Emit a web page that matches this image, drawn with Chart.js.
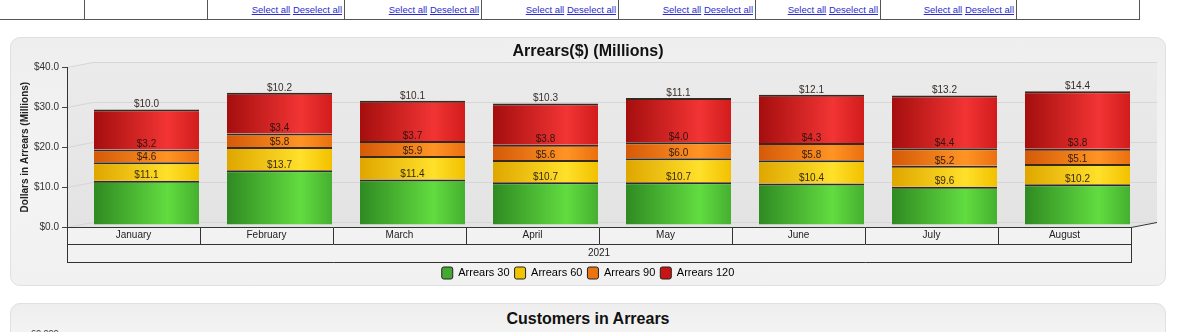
<!DOCTYPE html>
<html>
<head>
<meta charset="utf-8">
<title>Arrears</title>
<script src="https://cdn.jsdelivr.net/npm/chart.js@4/dist/chart.umd.min.js"></script>
<style>
  html, body { margin: 0; padding: 0; background: #fff; }
  body { width: 1200px; height: 332px; overflow: hidden; position: relative;
         font-family: "Liberation Sans", Arial, sans-serif; }
  .strip { position: absolute; left: 0; top: 0; width: 1140px; height: 19px;
           border-bottom: 1px solid #555; display: flex; }
  .strip div { height: 19px; box-sizing: border-box; border-right: 1px solid #555;
               text-align: right; font-size: 9.5px; line-height: 19px; padding-right: 2px; white-space: nowrap; }
  .strip a { color: #2a2ad0; text-decoration: underline; }
  .panel { position: absolute; left: 10px; width: 1156px; box-sizing: border-box;
           border: 1px solid #e0e0e0; border-radius: 10px;
           background: linear-gradient(180deg, #eeeeee 0%, #f4f4f4 55%, #f1f1f1 100%); }
  #p1 { top: 37px; height: 249px; }
  #p1 canvas { position: absolute; left: -1px; top: -1px; }
  #p2 { top: 303px; height: 60px; }
  #p2 h2 { margin: 0; font-size: 16px; font-weight: bold; text-align: center; line-height: 30px; color: #111; }
  #p2 span { position: absolute; left: 20px; top: 24px; font-size: 9px; color: #444; }
</style>
</head>
<body>

<div class="strip">
  <div style="width:85px"></div>
  <div style="width:123px"></div>
  <div style="width:137px"><a>Select all</a> <a>Deselect all</a></div>
  <div style="width:137px"><a>Select all</a> <a>Deselect all</a></div>
  <div style="width:137px"><a>Select all</a> <a>Deselect all</a></div>
  <div style="width:137px"><a>Select all</a> <a>Deselect all</a></div>
  <div style="width:125px"><a>Select all</a> <a>Deselect all</a></div>
  <div style="width:136px"><a>Select all</a> <a>Deselect all</a></div>
  <div style="width:123px"></div>
</div>

<div class="panel" id="p1">
  <canvas id="arrears" width="1156" height="252"></canvas>
</div>

<div class="panel" id="p2">
  <h2>Customers in Arrears</h2>
  <span>60,000</span>
</div>

<script>
var MONTHS = ["January", "February", "March", "April", "May", "June", "July", "August"];
var YEAR = ["2021"];
var SERIES = ["Arrears 30", "Arrears 60", "Arrears 90", "Arrears 120"];

// $ millions
var ARREARS_30  = [11.1, 13.7, 11.4, 10.7, 10.7, 10.4, 9.6, 10.2];
var ARREARS_60  = [4.6, 5.8, 5.9, 5.6, 6.0, 5.8, 5.2, 5.1];
var ARREARS_90  = [3.2, 3.4, 3.7, 3.8, 4.0, 4.3, 4.4, 3.8];
var ARREARS_120 = [10.0, 10.2, 10.1, 10.3, 11.1, 12.1, 13.2, 14.4];

var Y_MIN = 0, Y_MAX = 40, Y_STEP = 10;

(function () {
  "use strict";

  var FONT = "'Liberation Sans', Arial, sans-serif";
  var BAR_PCT = 0.79;
  var SHIFT = { x: 13, y: 2 };   // bars sit half way into the 3-D box
  var WALL = { x: 26, y: 5 };    // depth of the back wall

  // legend fill, left edge, highlight, right edge
  var SHADES = [
    ["#44a832", "#2f8a22", "#62dc40", "#45b030"],
    ["#f0c400", "#dfa600", "#ffe02a", "#f2c000"],
    ["#ec7410", "#d55a08", "#ff9424", "#ea7010"],
    ["#c81414", "#a50e0e", "#f23434", "#d21c1c"]
  ];

  Chart.defaults.font.family = FONT;
  Chart.defaults.color = "#222";

  /* horizontal gradient per bar so the stacks read as cylinders */
  function cylinder(shade) {
    return function (c) {
      var xs = c.chart.scales.x;
      if (c.type !== "data" || !xs || !isFinite(xs.width) || xs.width <= 0) return shade[0];
      var mid = xs.getPixelForValue(c.dataIndex);
      var half = xs.width / MONTHS.length * BAR_PCT / 2;
      var g = c.chart.ctx.createLinearGradient(mid - half, 0, mid + half, 0);
      g.addColorStop(0, shade[1]);
      g.addColorStop(0.7, shade[2]);
      g.addColorStop(1, shade[3]);
      return g;
    };
  }

  function ds(label, data, i) {
    return {
      label: label, data: data,
      backgroundColor: cylinder(SHADES[i]),
      borderColor: "rgba(35,20,10,0.9)",
      borderWidth: { top: 2, right: 0, bottom: 0, left: 0 },
      borderSkipped: "start",
      barPercentage: BAR_PCT, categoryPercentage: 1,
      clip: false
    };
  }

  var depth = {
    id: "depth",
    beforeDraw: function (chart) {
      var ctx = chart.ctx, a = chart.chartArea, ys = chart.scales.y;
      ctx.save();
      var g = ctx.createLinearGradient(0, a.top, 0, a.bottom);
      g.addColorStop(0, "#ebebeb");
      g.addColorStop(1, "#e3e3e3");
      ctx.fillStyle = g;
      ctx.beginPath();
      ctx.moveTo(a.left, a.bottom);
      ctx.lineTo(a.left, a.top);
      ctx.lineTo(a.left + WALL.x, a.top - WALL.y);
      ctx.lineTo(a.right + WALL.x, a.top - WALL.y);
      ctx.lineTo(a.right + WALL.x, a.bottom - WALL.y);
      ctx.lineTo(a.right, a.bottom);
      ctx.closePath();
      ctx.fill();
      ctx.strokeStyle = "#d6d6d6";
      ctx.lineWidth = 1;
      ys.ticks.forEach(function (t) {
        var py = Math.round(ys.getPixelForValue(t.value)) + 0.5;
        ctx.beginPath();
        ctx.moveTo(a.left, py);
        ctx.lineTo(a.left + WALL.x, py - WALL.y);
        ctx.lineTo(a.right + WALL.x, py - WALL.y);
        ctx.stroke();
      });
      ctx.strokeStyle = "#333";
      ctx.beginPath();
      ctx.moveTo(a.right, a.bottom + 0.5);
      ctx.lineTo(a.right + WALL.x, a.bottom - WALL.y + 0.5);
      ctx.stroke();
      ctx.restore();
    },
    beforeDatasetsDraw: function (chart) {
      chart.ctx.save();
      chart.ctx.translate(SHIFT.x, -SHIFT.y);
    },
    afterDatasetsDraw: function (chart) {
      var ctx = chart.ctx;
      ctx.font = "10px " + FONT;
      ctx.fillStyle = "rgba(30,18,12,0.9)";
      ctx.textAlign = "center";
      ctx.textBaseline = "middle";
      chart.data.datasets.forEach(function (d, i) {
        chart.getDatasetMeta(i).data.forEach(function (el, j) {
          ctx.fillText("$" + d.data[j].toFixed(1), el.x, el.y - 5);
        });
      });
      ctx.restore();
    }
  };

  new Chart(document.getElementById("arrears"), {
    type: "bar",
    data: {
      labels: MONTHS,
      datasets: [
        ds(SERIES[0], ARREARS_30, 0),
        ds(SERIES[1], ARREARS_60, 1),
        ds(SERIES[2], ARREARS_90, 2),
        ds(SERIES[3], ARREARS_120, 3)
      ]
    },
    plugins: [depth],
    options: {
      responsive: false, animation: false, events: [],
      layout: { padding: { left: 5, right: 5, top: 0, bottom: 0 } },
      plugins: {
        tooltip: { enabled: false },
        title: {
          display: true, text: "Arrears($) (Millions)", color: "#111",
          font: { size: 16, weight: "bold" }, padding: { top: 5, bottom: 6 }
        },
        legend: {
          position: "bottom",
          labels: {
            font: { size: 11 }, color: "#222", boxWidth: 11, boxHeight: 12, padding: 5,
            useBorderRadius: true, borderRadius: 2,
            generateLabels: function (chart) {
              return chart.data.datasets.map(function (d, i) {
                return { text: d.label, fillStyle: SHADES[i][0], strokeStyle: "#222",
                         lineWidth: 1, borderRadius: 2, datasetIndex: i, hidden: false };
              });
            }
          }
        }
      },
      scales: {
        x: {
          stacked: true, offset: true, weight: 0,
          grid: { display: true, offset: true, drawOnChartArea: false, tickLength: 17, color: "#333" },
          border: { display: true, color: "#333" },
          ticks: { font: { size: 10 }, color: "#222", padding: -15, autoSkip: false, maxRotation: 0 },
          afterFit: function (s) { s.height = 17; }
        },
        xYear: {
          type: "category", axis: "x", position: "bottom", labels: YEAR, offset: true, weight: 1,
          grid: { display: true, offset: true, drawOnChartArea: false, tickLength: 18, color: "#333" },
          border: { display: true, color: "#333" },
          ticks: { font: { size: 10 }, color: "#222", padding: -15 },
          afterFit: function (s) { s.height = 18; }
        },
        xClose: {
          type: "category", axis: "x", position: "bottom", labels: [""], weight: 2,
          grid: { display: false }, ticks: { display: false },
          border: { display: true, color: "#333" },
          afterFit: function (s) { s.height = 0; }
        },
        y: {
          stacked: true, min: Y_MIN, max: Y_MAX,
          grid: { display: true, drawOnChartArea: false, tickLength: 5, color: "#444" },
          border: { display: true, color: "#333" },
          ticks: { stepSize: Y_STEP, font: { size: 10 }, color: "#333", padding: 3,
                   callback: function (v) { return "$" + v.toFixed(1); } },
          title: { display: true, text: "Dollars in Arrears (Millions)", color: "#222",
                   font: { size: 10, weight: "bold" }, padding: { top: 4, bottom: 0 } },
          afterFit: function (s) { s.width = 52; }
        },
        yDepth: {
          type: "linear", axis: "y", position: "right",
          grid: { display: false }, border: { display: false }, ticks: { display: false },
          afterFit: function (s) { s.width = 30; }
        }
      }
    }
  });
})();
</script>
</body>
</html>
